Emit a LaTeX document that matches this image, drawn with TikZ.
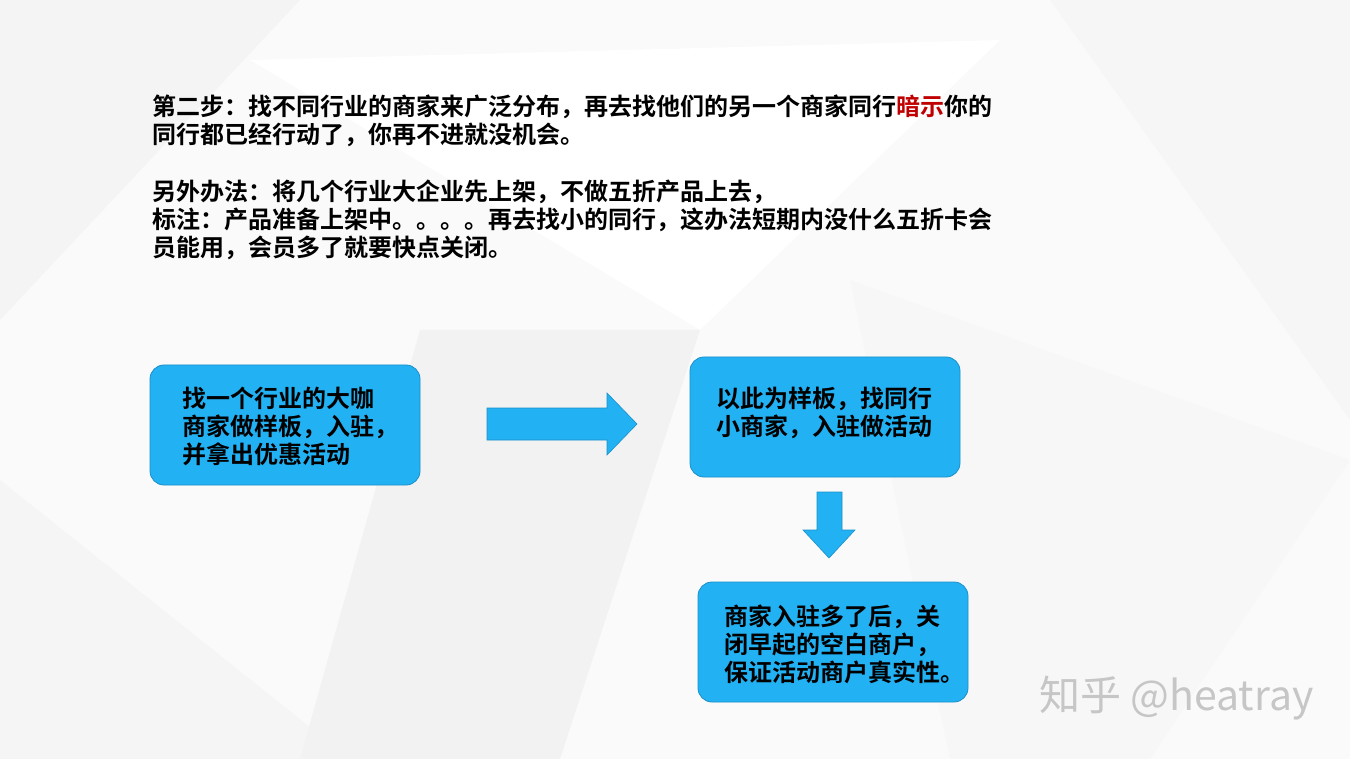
\documentclass[tikz,border=0pt]{standalone}
\usepackage{fontspec}
\newfontfamily\cjk{Noto Sans CJK SC}[BoldFont={Noto Sans CJK SC Bold}]
\definecolor{boxc}{HTML}{22B2F4}
\definecolor{boxd}{HTML}{1A8FC8}
\definecolor{darkred}{HTML}{C00000}
\tikzset{
 P/.style={x=1pt,y=-1pt},
 box/.style={draw=boxd,fill=boxc,rounded corners=14pt,line width=0.8pt},
 txt/.style={anchor=north west,align=left,font=\cjk\bfseries\fontsize{24}{28}\selectfont,inner sep=0pt},
 arr/.style={draw=boxd,fill=boxc,line width=0.6pt},
 tri/.style={fill=gray!9,draw=none}
}
\begin{document}
\begin{tikzpicture}[P]
\useasboundingbox (0,0) rectangle (1350,759);
\fill[gray!4] (0,0) rectangle (1350,759);
\fill[tri] (0,0) -- (300,0) -- (0,320) -- cycle;
\fill[gray!7] (1050,0) -- (1350,0) -- (1350,420) -- cycle;
\fill[gray!8] (0,480) -- (350,759) -- (0,759) -- cycle;
\fill[gray!6] (850,280) -- (1350,460) -- (1150,759) -- (950,759) -- cycle;
\fill[white] (250,60) -- (1000,40) -- (700,330) -- cycle;
\fill[white!90!gray] (420,330) -- (700,330) -- (560,759) -- (300,759) -- cycle;
\node[txt] (t1) at (152,95) {第二步：找不同行业的商家来广泛分布，再去找他们的另一个商家同行{\color{darkred}暗示}你的\\同行都已经行动了，你再不进就没机会。};
\node[txt] (t2) at (152,180) {另外办法：将几个行业大企业先上架，不做五折产品上去，\\标注：产品准备上架中。。。。再去找小的同行，这办法短期内没什么五折卡会\\员能用，会员多了就要快点关闭。};
\draw[box] (150,365) rectangle (420,485);
\node[txt] (b1) at (182,387) {找一个行业的大咖\\商家做样板，入驻，\\并拿出优惠活动};
\draw[box] (690,357) rectangle (960,477);
\node[txt] (b2) at (716,387) {以此为样板，找同行\\小商家，入驻做活动};
\draw[box] (698,582) rectangle (968,702);
\node[txt] (b3) at (724,605) {商家入驻多了后，关\\闭早起的空白商户，\\保证活动商户真实性。};
\draw[arr] (487,408) -- (607,408) -- (607,393) -- (637,424) -- (607,455) -- (607,440) -- (487,440) -- cycle;
\draw[arr] (817,492) -- (842,492) -- (842,530) -- (855,530) -- (829,558) -- (803,530) -- (817,530) -- cycle;
\node[anchor=west,font=\cjk\fontsize{41}{41}\selectfont,text=gray!45] (wm) at (1036,698) {知乎 @heatray};
\end{tikzpicture}
\end{document}
